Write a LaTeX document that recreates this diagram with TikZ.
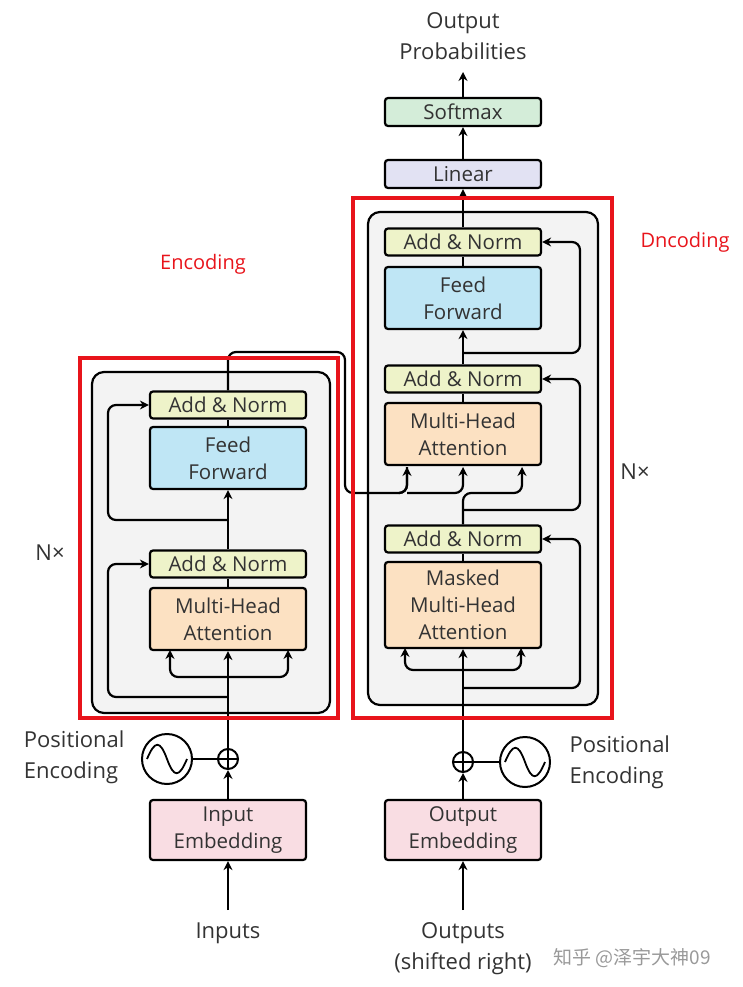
\documentclass[tikz,border=0pt]{standalone}
\usepackage{fontspec}
\setmainfont{Open Sans}
\newfontfamily\cjk{Noto Sans CJK SC}
\usetikzlibrary{arrows.meta}
\definecolor{anc}{HTML}{EEF3C9}
\definecolor{ffc}{HTML}{BFE6F5}
\definecolor{mhc}{HTML}{FCE1C2}
\definecolor{embc}{HTML}{F9DDE3}
\definecolor{linc}{HTML}{E2E2F3}
\definecolor{smc}{HTML}{D4EDD9}
\definecolor{grayc}{HTML}{F3F3F3}
\definecolor{redc}{HTML}{E8141B}
\definecolor{txt}{HTML}{333333}
\begin{document}
\begin{tikzpicture}[x=1pt,y=-1pt,
 blk/.style={draw=black,line width=2.2pt,rounded corners=3pt,minimum width=156pt,text=txt,align=center,font=\fontsize{20.5}{27}\selectfont,inner sep=0pt},
 an/.style={blk,fill=anc,minimum height=27pt},
 big/.style={blk,minimum height=62pt},
 ln/.style={line width=2.2pt,rounded corners=8pt},
 ar/.style={ln,-{Stealth[length=9pt,width=9pt]}},
 lab/.style={text=txt,font=\fontsize{22}{31}\selectfont,align=center},
 red/.style={draw=redc,line width=4pt}]
\useasboundingbox (0,0) rectangle (743,987);
% gray boxes
\draw[fill=grayc,line width=2.2pt,rounded corners=12pt] (92,372) rectangle (330,713);
\draw[fill=grayc,line width=2.2pt,rounded corners=12pt] (368,212) rectangle (598,705);
% encoder
\node[an] (ean2) at (228,405) {Add \& Norm};
\node[big,fill=ffc] (eff) at (228,458) {Feed\\Forward};
\node[an] (ean1) at (228,564) {Add \& Norm};
\node[big,fill=mhc] (emh) at (228,619) {Multi-Head\\Attention};
\node[big,fill=embc,minimum height=60pt] (eemb) at (228,830) {Input\\Embedding};
\node[draw,circle,line width=2pt,minimum size=20pt,inner sep=0pt] (eplus) at (228,759) {};
\draw[line width=1.8pt] (eplus.north)--(eplus.south) (eplus.west)--(eplus.east);
\node[draw,circle,line width=2pt,minimum size=50pt,inner sep=0pt] (esin) at (167,759) {};
\draw[line width=1.8pt] ([xshift=-20pt]esin.center) .. controls (155,740) and (160,740) .. (esin.center) .. controls (174,778) and (179,778) .. ([xshift=20pt]esin.center);
\draw[ln] (esin.east)--(eplus.west);
\node[lab,align=left,anchor=east] (epl) at (128,757) {Positional\\Encoding};
\node[lab] (ein) at (228,933) {Inputs};
\coordinate (einb) at (228,910);
\draw[ar] (einb)--(eemb.south);
\draw[ar] (eemb.north)--(eplus.south);
\draw[ar] (eplus.north)--(emh.south);
\draw[ar] (228,677)-|(170,650);
\draw[ar] (228,677)-|(288,650);
\draw[ar] (228,697)-|(108,564)--(ean1.west);
\draw[ln] (emh.north)--(ean1.south);
\draw[ar] (ean1.north)--(eff.south);
\draw[ar] (228,520)-|(108,405)--(ean2.west);
\draw[ln] (eff.north)--(ean2.south);
% decoder
\node[blk,fill=smc,minimum height=28pt] (sm) at (463,112) {Softmax};
\node[blk,fill=linc,minimum height=28pt] (lin) at (463,174) {Linear};
\node[an] (dan3) at (463,242) {Add \& Norm};
\node[big,fill=ffc] (dff) at (463,298) {Feed\\Forward};
\node[an] (dan2) at (463,379) {Add \& Norm};
\node[big,fill=mhc] (dmh2) at (463,434) {Multi-Head\\Attention};
\node[an] (dan1) at (463,539) {Add \& Norm};
\node[blk,fill=mhc,minimum height=86pt] (dmh1) at (463,605) {Masked\\Multi-Head\\Attention};
\node[big,fill=embc,minimum height=60pt] (demb) at (463,830) {Output\\Embedding};
\node[draw,circle,line width=2pt,minimum size=20pt,inner sep=0pt] (dplus) at (463,762) {};
\draw[line width=1.8pt] (dplus.north)--(dplus.south) (dplus.west)--(dplus.east);
\node[draw,circle,line width=2pt,minimum size=50pt,inner sep=0pt] (dsin) at (525,762) {};
\draw[line width=1.8pt] ([xshift=-20pt]dsin.center) .. controls (513,743) and (518,743) .. (dsin.center) .. controls (532,781) and (537,781) .. ([xshift=20pt]dsin.center);
\draw[ln] (dsin.west)--(dplus.east);
\node[lab,align=left,anchor=west] (dpl) at (566,762) {Positional\\Encoding};
\node[lab] (dout) at (463,949) {Outputs\\(shifted right)};
\node[lab] (oprob) at (463,36) {Output\\Probabilities};
\coordinate (doutt) at (463,910);
\draw[ar] (doutt)--(demb.south);
\draw[ar] (demb.north)--(dplus.south);
\draw[ar] (dplus.north)--(dmh1.south);
\draw[ar] (463,670)-|(405,648);
\draw[ar] (463,670)-|(521,648);
\draw[ar] (463,688)-|(580,539)--(dan1.east);
\draw[ln] (dmh1.north)--(dan1.south);
\draw[ar] (dan1.north)|-(522,493)--(522,467);
\draw[ar] (463,510)-|(580,379)--(dan2.east);
\draw[ln] (dmh2.north)--(dan2.south);
\draw[ar] (dan2.north)--(dff.south);
\draw[ar] (463,353)-|(580,242)--(dan3.east);
\draw[ln] (dff.north)--(dan3.south);
\draw[ar] (dan3.north)--(lin.south);
\draw[ar] (lin.north)--(sm.south);
\draw[ar] (sm.north)--(463,72);
% encoder to decoder
\draw[ln] (ean2.north)|-(345,352)|-(407,493)--(407,467);
\draw[ar] (400,493)-|(407,467);
\draw[ar] (407,493)-|(463,467);
% red boxes
\draw[red] (80,358) rectangle (338,718);
\draw[red] (353,198) rectangle (612,718);
\node[text=redc,font=\fontsize{20}{22}\selectfont] (encl) at (203,264) {Encoding};
\node[text=redc,font=\fontsize{20}{22}\selectfont] (decl) at (685,242) {Dncoding};
\node[lab] (enx) at (50,553) {N×};
\node[lab] (dnx) at (635,472) {N×};
\node[text=gray!80,font=\cjk\fontsize{19}{22}\selectfont] (wm) at (632,958) {知乎 @泽宇大神09};
\end{tikzpicture}
\end{document}
